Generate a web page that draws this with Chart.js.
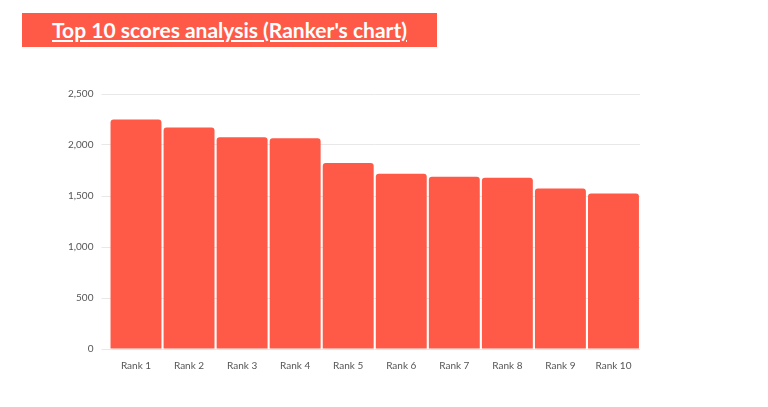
<!DOCTYPE html>
<html><head><meta charset="utf-8">
<script src="https://cdn.jsdelivr.net/npm/chart.js@4/dist/chart.umd.min.js"></script>
<style>
body{margin:0;width:768px;height:407px;background:#fff;position:relative;overflow:hidden;font-family:Lato,"Open Sans",sans-serif}
#title{position:absolute;left:22px;top:13px;width:415px;height:34px;background:#ff5a47;color:#fff;font-weight:bold;font-size:21px;line-height:34px;text-align:center;text-decoration:underline}
#wrap{position:absolute;left:60px;top:80px;width:580px;height:295px}
</style></head><body>
<div id="title">Top 10 scores analysis (Ranker's chart)</div>
<div id="wrap"><canvas id="c"></canvas></div>
<script>
const ranks=['Rank 1','Rank 2','Rank 3','Rank 4','Rank 5','Rank 6','Rank 7','Rank 8','Rank 9','Rank 10'];
const scores=[2250,2172,2075,2066,1824,1718,1689,1680,1573,1525];
new Chart(document.getElementById('c'),{type:'bar',
  data:{labels:ranks,datasets:[{data:scores,backgroundColor:'#ff5a47',borderRadius:{topLeft:3,topRight:3},borderSkipped:'bottom',categoryPercentage:0.96,barPercentage:1}]},
  options:{responsive:true,maintainAspectRatio:false,animation:false,
    plugins:{legend:{display:false},tooltip:{enabled:false}},
    scales:{x:{grid:{display:false},border:{display:false},ticks:{color:'#555',font:{size:10,family:'Lato'}}},
      y:{min:0,max:2500,ticks:{stepSize:500,color:'#555',font:{size:10,family:'Lato'},padding:8},grid:{color:'#e8e8e8'},border:{display:false}}}}});
</script></body></html>
